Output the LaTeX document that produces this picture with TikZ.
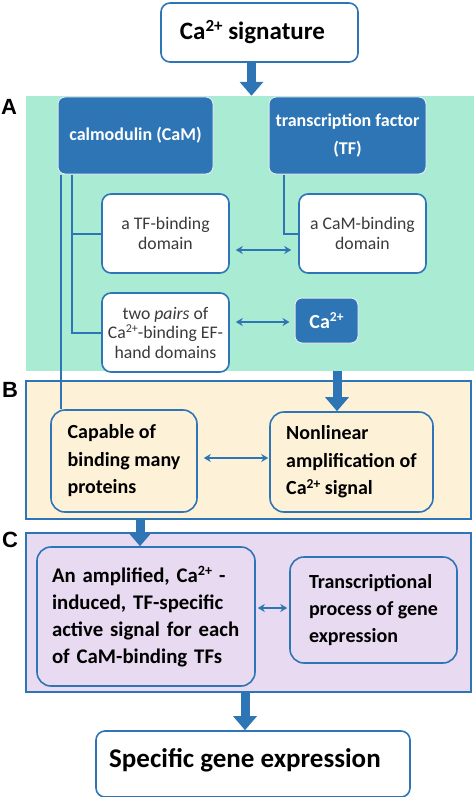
\documentclass[tikz,border=0pt]{standalone}
\usepackage{fontspec}
\setmainfont{Carlito}
\newfontfamily\labfont{Liberation Sans}
\usetikzlibrary{arrows.meta}
\definecolor{cblue}{HTML}{2E75B6}
\definecolor{cgreen}{HTML}{AAEBD3}
\definecolor{cyellow}{HTML}{FDF2D8}
\definecolor{clav}{HTML}{E8DAF0}
\definecolor{ctext}{HTML}{3A3A3A}
\newcommand\supt[1]{\raisebox{0.32em}{\scalebox{0.68}{#1}}}
\tikzset{
  box/.style={draw=cblue, line width=1.6pt, rounded corners=9pt, align=center, inner sep=2pt},
  whitebox/.style={box, fill=white, text=ctext, font=\fontsize{17.7}{19.5}\selectfont},
  darkbox/.style={draw=white!85!cblue, line width=1pt, rounded corners=7pt, fill=cblue, text=white, align=center, font=\bfseries\fontsize{18}{28}\selectfont},
  bigbox/.style={box, rounded corners=14pt, font=\bfseries\fontsize{20}{27.5}\selectfont, align=left},
  panel/.style={draw=cblue, line width=1.6pt},
  conn/.style={draw=cblue, line width=2pt},
  dbl/.style={draw=cblue, line width=1.4pt, {Stealth[length=7pt,width=8pt]}-{Stealth[length=7pt,width=8pt]}},
  fat/.style={draw=cblue, line width=9pt, -{Triangle[length=14pt,width=23pt]}},
  lab/.style={font=\labfont\bfseries\fontsize{22}{22}\selectfont}
}
\begin{document}
\begin{tikzpicture}[x=1pt,y=-1pt]
\useasboundingbox (0,0) rectangle (474,797);
% panels
\node[fill=cgreen, minimum width=448, minimum height=275, inner sep=0] (pA) at (250,233.5) {};
\node[panel, fill=cyellow, minimum width=445, minimum height=138, inner sep=0] (pB) at (248.5,450) {};
\node[panel, fill=clav, minimum width=445, minimum height=159, inner sep=0] (pC) at (248.5,612.5) {};
\node[lab] (la) at (9,107) {A};
\node[lab] (lb) at (10,390) {B};
\node[lab] (lc) at (10,540) {C};
% top
\node[box, fill=white, minimum width=197, minimum height=59, font=\bfseries\fontsize{25}{25}\selectfont, text=black] (sig) at (259.5,32.5) {Ca\supt{2+} signature\hspace{14pt}};
% panel A
\node[darkbox, minimum width=155, minimum height=77] (cam) at (135.5,135.5) {calmodulin (CaM)};
\node[darkbox, minimum width=157, minimum height=77] (tf) at (347.5,135.5) {transcription factor\\(TF)};
\node[whitebox, minimum width=127, minimum height=79] (tfb) at (165.5,233.5) {a TF-binding\\domain};
\node[whitebox, minimum width=127, minimum height=79] (camb) at (362.5,233.5) {a CaM-binding\\domain};
\node[whitebox, minimum width=127, minimum height=79] (ef) at (165.5,332.5) {two \textit{pairs} of\\Ca\supt{2+}-binding EF-\\hand domains};
\node[darkbox, minimum width=63, minimum height=45, font=\bfseries\fontsize{20}{22}\selectfont] (ca) at (326.5,320.5) {Ca\supt{2+}};
% panel B
\node[bigbox, fill=cyellow, minimum width=146, minimum height=102] (cap) at (124,461) {Capable of\\binding many\\proteins};
\node[bigbox, fill=cyellow, minimum width=163, minimum height=100] (non) at (351.5,462) {Nonlinear\\amplification of\\Ca\supt{2+} signal};
% panel C
\node[bigbox, fill=clav, minimum width=218, minimum height=139, text width=188, inner xsep=15pt, font=\bfseries\fontsize{20.8}{27}\selectfont] (amp) at (146,616.5) {An amplified, Ca\supt{2+} -\\induced, TF-specific\\active signal for each\\of CaM-binding TFs};
\node[bigbox, fill=clav, minimum width=167, minimum height=106, font=\bfseries\fontsize{20}{27}\selectfont] (trn) at (373.5,610) {Transcriptional\\process of gene\\expression};
% bottom
\node[box, fill=white, minimum width=314, minimum height=66, font=\bfseries\fontsize{27}{27}\selectfont, text=black, text depth=13pt] (out) at (253,764) {Specific gene expression\hspace{16pt}};
% helper coordinates
\coordinate (xa) at (337,0);
\coordinate (xb) at (140,0);
\coordinate (xc) at (245,0);
% connectors
\draw[conn] ([xshift=3]cam.south west) -- ([xshift=3]cam.south west |- cap.north);
\draw[conn] ([xshift=14]cam.south west) |- (ef.west);
\draw[conn] ([xshift=14]cam.south west |- tfb.west) -- (tfb.west);
\draw[conn] ([xshift=15]tf.south west) |- (camb.west);
\draw[dbl] ([yshift=-16.5,xshift=6]tfb.east) -- ([yshift=-16.5,xshift=-7]tfb.east -| camb.west);
\draw[dbl] ([yshift=10.5,xshift=6]ef.east) -- ([yshift=10.5,xshift=-5]ef.east -| ca.west);
\draw[dbl] ([yshift=3,xshift=6]cap.east) -- ([yshift=3,xshift=-1]cap.east -| non.west);
\draw[dbl] ([yshift=8.5,xshift=2]amp.east) -- ([yshift=8.5,xshift=-2]amp.east -| trn.west);
% fat arrows
\draw[fat] ([xshift=-8]sig.south) -- ([xshift=-8]sig.south |- pA.north);
\draw[fat] (xa |- pA.south) -- (xa |- non.north);
\draw[fat] (xb |- pB.south) -- (xb |- amp.north);
\draw[fat] (xc |- pC.south) -- (xc |- out.north);
\end{tikzpicture}
\end{document}
